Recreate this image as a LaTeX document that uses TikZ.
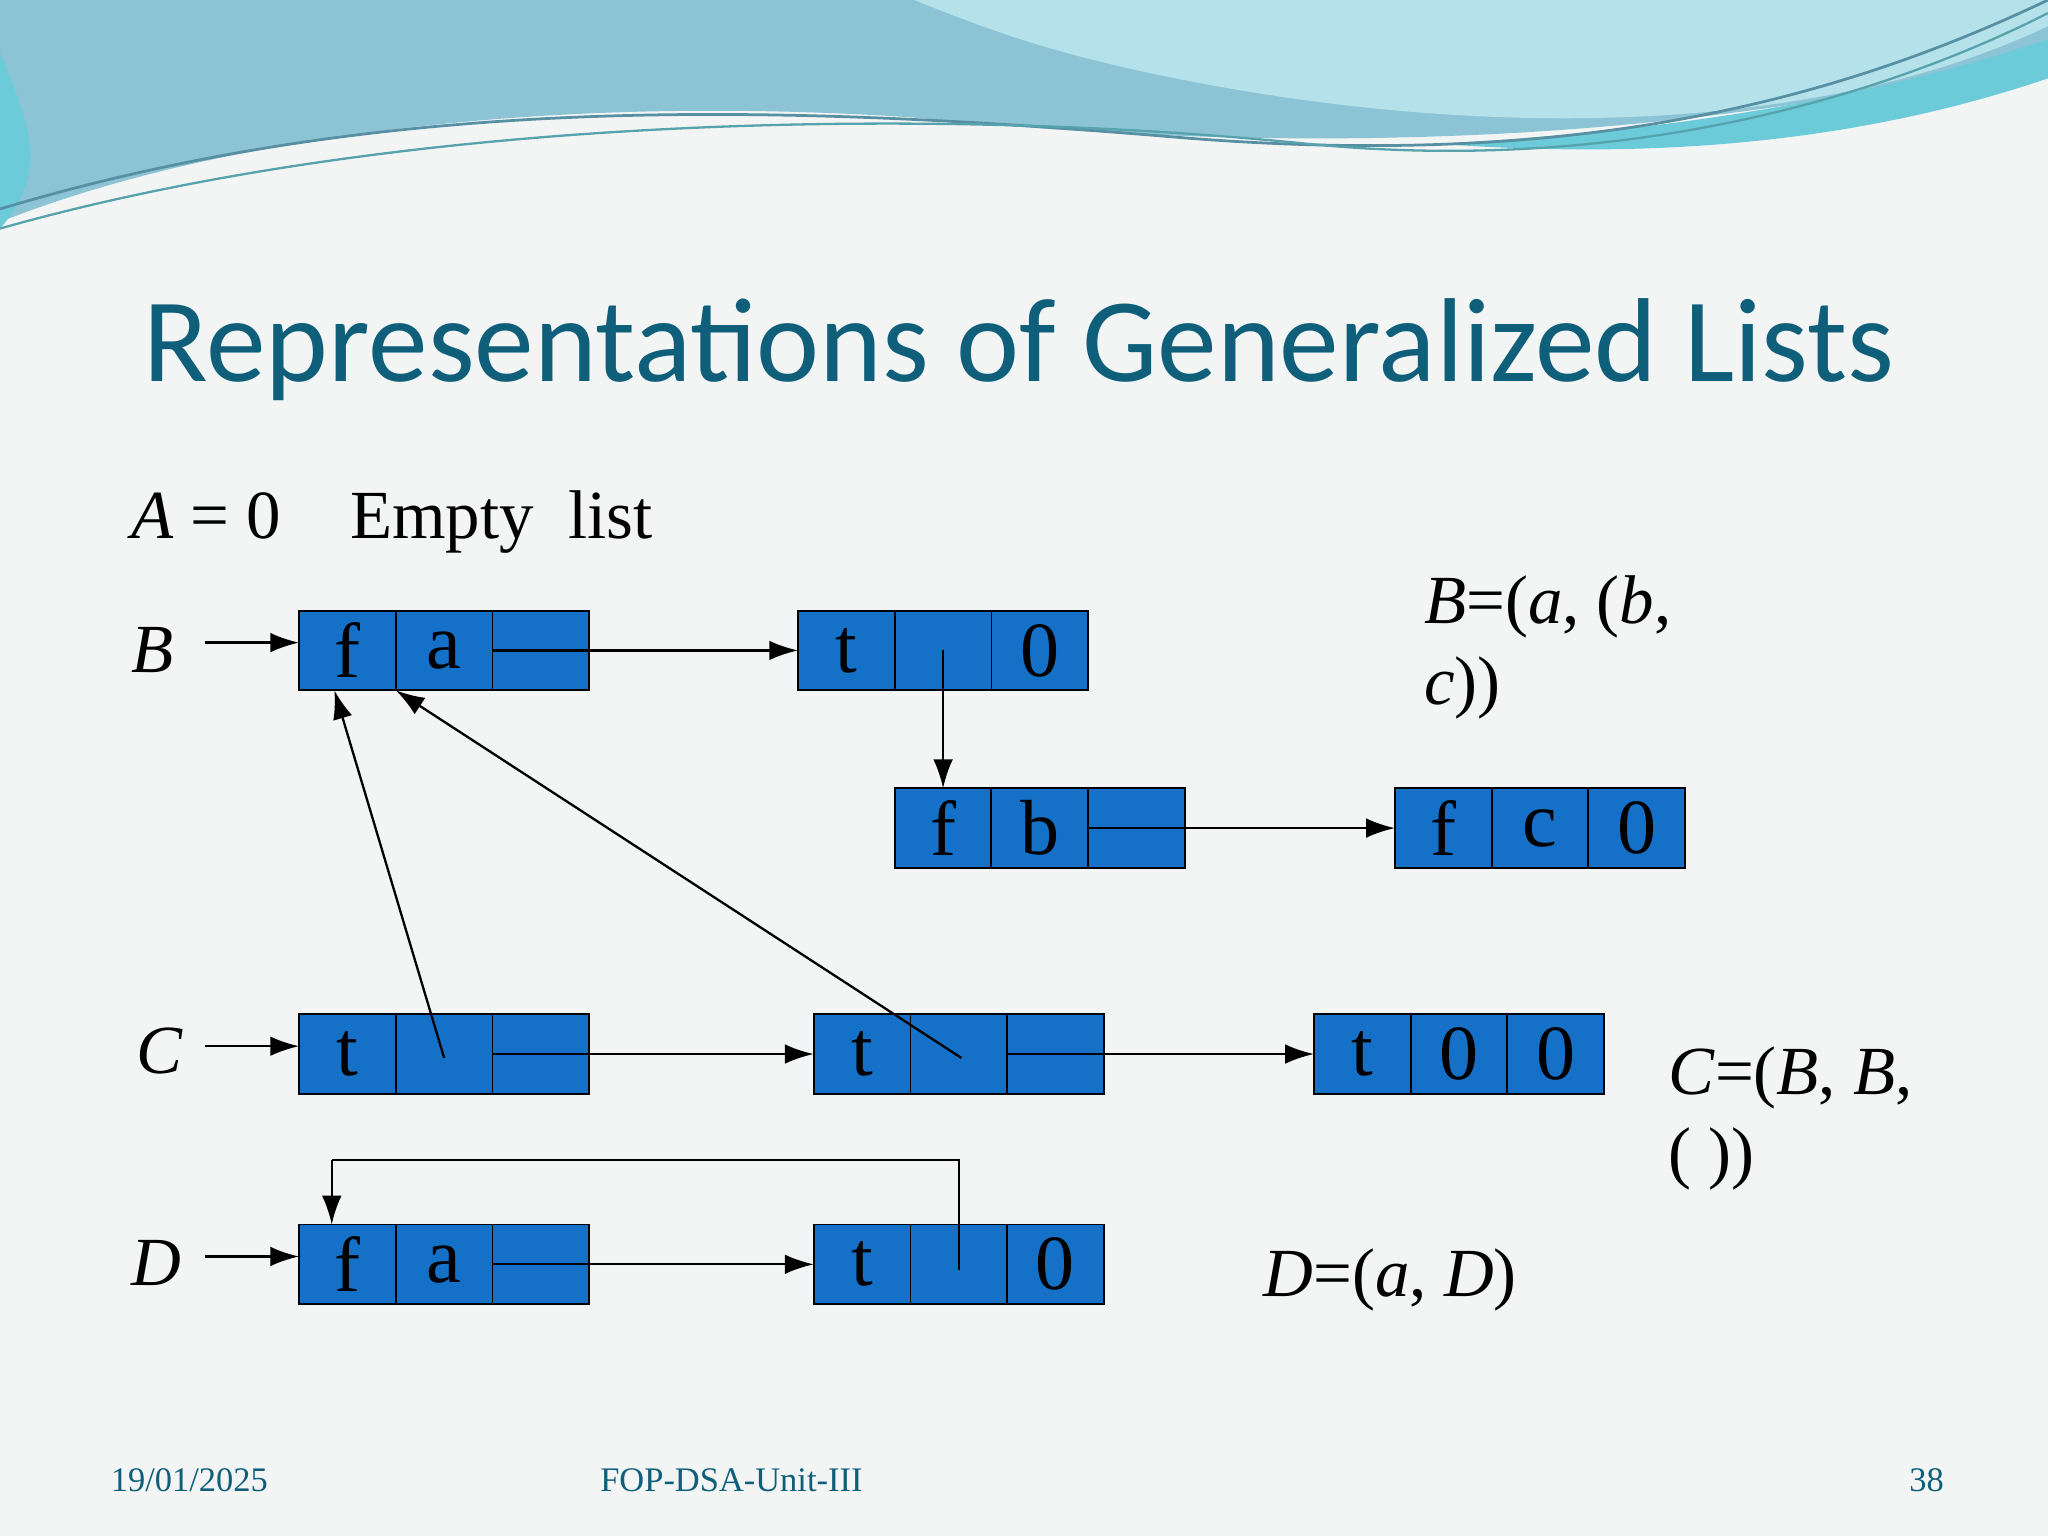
\documentclass[tikz,border=0pt]{standalone}
\usepackage{fontspec}
\setmainfont{Liberation Serif}
\newfontfamily\titlefont{Carlito}
\usetikzlibrary{arrows.meta}
\definecolor{bg}{HTML}{F3F5F5}
\definecolor{cellblue}{HTML}{1570C8}
\definecolor{titleblue}{HTML}{0F5F7B}
\definecolor{waveA}{HTML}{8CC4D6}
\definecolor{waveB}{HTML}{6CCBD8}
\definecolor{waveC}{HTML}{B5E2EA}
\begin{document}
\begin{tikzpicture}[x=0.01cm,y=-0.01cm,
  cell/.style={draw=black,fill=cellblue,minimum width=0.74cm,minimum height=0.61cm,inner sep=0,outer sep=0,font=\fontsize{17}{20}\selectfont},
  ptr/.style={-{Latex[length=2.2mm,width=1.5mm]},black,line width=0.5pt},
  lab/.style={font=\fontsize{15}{18}\selectfont\itshape,anchor=west},
  foot/.style={font=\fontsize{7.5}{9}\selectfont,text=titleblue}]
\useasboundingbox (0,0) rectangle (1568,1176);
\fill[bg] (0,0) rectangle (1568,1176);
% waves
\fill[waveA] (0,0) -- (1568,0) -- (1568,40) .. controls (1300,110) and (1000,120) .. (700,90) .. controls (400,70) and (150,110) .. (0,170) -- cycle;
\fill[waveC] (700,0) -- (1568,0) -- (1568,20) .. controls (1400,100) and (1150,110) .. (900,60) .. controls (800,40) and (750,20) .. (700,0) -- cycle;
\fill[waveB] (1568,30) -- (1568,60) .. controls (1450,100) and (1300,125) .. (1100,110) .. controls (1300,100) and (1450,70) .. (1568,30) -- cycle;
\fill[waveB] (0,40) .. controls (20,90) and (40,130) .. (0,175) -- cycle;
\draw[titleblue!70,line width=0.6pt] (0,160) .. controls (300,70) and (600,80) .. (900,105) .. controls (1200,130) and (1400,80) .. (1568,0);
\draw[waveB!80!black,line width=0.5pt] (0,175) .. controls (300,90) and (700,80) .. (1000,110) .. controls (1250,135) and (1450,70) .. (1568,10);
% title
\node[font=\titlefont\fontsize{26}{30}\selectfont,text=titleblue] (title) at (780,268) {Representations of Generalized Lists};
% helper macro for 3-cell nodes
\newcommand{\threecell}[5]{%
  \node[cell,anchor=west] (#1a) at (#2) {#3};
  \node[cell,anchor=west] (#1b) at (#1a.east) {#4};
  \node[cell,anchor=west] (#1c) at (#1b.east) {#5};}
\threecell{b1}{229,498}{f}{a}{}
\threecell{b2}{611,498}{t}{}{0}
\threecell{b3}{685,634}{f}{b}{}
\threecell{b4}{1068,634}{f}{c}{0}
\threecell{c1}{229,807}{t}{}{}
\threecell{c2}{623,807}{t}{}{}
\threecell{c3}{1006,807}{t}{0}{0}
\threecell{d1}{229,968}{f}{a}{}
\threecell{d2}{623,968}{t}{}{0}
% labels
\node[lab,font=\fontsize{15}{18}\selectfont] (alab) at (88,400) {\textit{A} = 0\quad Empty\ \ list};
\node[lab] (blab) at (88,498) {B};
\node[lab] (clab) at (92,805) {C};
\node[lab] (dlab) at (88,967) {D};
\coordinate (bs) at (157,492);
\coordinate (cs) at (157,801);
\coordinate (ds) at (157,962);
\draw[ptr] (bs) -- (bs -| b1a.west);
\draw[ptr] (cs) -- (cs -| c1a.west);
\draw[ptr] (ds) -- (ds -| d1a.west);
% pointers
\draw[ptr] ([xshift=-0.37cm]b1c.center) -- (b2a.west);
\draw[ptr] (b2b.center) -- (b2b.center |- b3a.north);
\draw[ptr] ([xshift=-0.37cm]b3c.center) -- (b4a.west);
\draw[ptr] ([xshift=-0.37cm]c1c.center) -- (c2a.west);
\draw[ptr] ([xshift=-0.37cm]c2c.center) -- (c3a.west);
\draw[ptr] ([xshift=-0.37cm]d1c.center) -- (d2a.west);
\coordinate (cb) at ([xshift=0.37cm,yshift=-0.01cm]c1a.center);
\draw[ptr] ([yshift=-0.03cm]c1b.center) -- ([xshift=-0.1cm]b1a.south);
\draw[ptr] ([xshift=0.02cm,yshift=-0.03cm]c2b.center) -- (b1b.south west);
\coordinate (dup) at (735,888);
\coordinate (dleft) at (254,888);
\draw[line width=0.5pt] ([yshift=-0.04cm]d2b.center) -- (d2b.center |- dup) -- (dleft);
\draw[ptr] (dleft) -- (dleft |- d1a.north);
% descriptions
\node[lab] (bdesc1) at (1078,465) {B\textup{=(}a\textup{, (}b\textup{,}};
\node[lab] (bdesc2) at (1078,527) {c\textup{))}};
\node[lab] (cdesc1) at (1265,825) {C\textup{=(}B\textup{,} B\textup{,}};
\node[lab] (cdesc2) at (1265,887) {\textup{( ))}};
\node[lab] (ddesc) at (955,980) {D\textup{=(}a\textup{,} D\textup{)}};
% footer
\node[foot] (f1) at (145,1133) {19/01/2025};
\node[foot] (f2) at (560,1133) {FOP-DSA-Unit-III};
\node[foot] (f3) at (1475,1133) {38};
\end{tikzpicture}
\end{document}
